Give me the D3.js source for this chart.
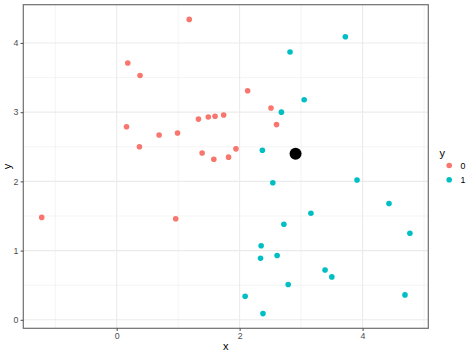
<!DOCTYPE html>
<html><head><meta charset="utf-8">
<script src="https://cdn.jsdelivr.net/npm/d3@7"></script>
<style>body{margin:0;background:#fff}svg{display:block;font-family:"Liberation Sans",Arial,sans-serif}</style>
</head><body><svg id="c" width="474" height="355"></svg>
<script>
const xs0 = [1.18,0.18,0.38,0.16,0.37,0.69,0.99,1.33,1.49,1.60,1.74,1.39,1.58,1.82,1.94,2.13,2.51,2.60,-1.22,0.96];
const ys0 = [4.34,3.71,3.53,2.79,2.50,2.67,2.70,2.90,2.93,2.94,2.96,2.41,2.32,2.35,2.47,3.31,3.06,2.82,1.48,1.46];
const xs1 = [3.72,2.82,3.05,2.68,2.37,2.54,3.91,4.43,3.16,2.72,4.77,2.35,2.34,2.61,3.39,3.50,2.79,2.09,4.69,2.38];
const ys1 = [4.09,3.87,3.18,3.00,2.45,1.98,2.02,1.68,1.54,1.38,1.25,1.07,0.89,0.93,0.72,0.62,0.51,0.34,0.36,0.09];
const highlight = [[2.91, 2.40]];
const classes = ["0","1"];
const colors = ["#F8766D","#00BFC4"];
const xTicks = [0,2,4], yTicks = [0,1,2,3,4];
const xMinor = [-1,1,3,5], yMinor = [0.5,1.5,2.5,3.5];

const svg = d3.select("#c");
const L=23.3,R=428.3,T=4.7,B=328.3;
const allX = xs0.concat(xs1), allY = ys0.concat(ys1);
const xr = d3.extent(allX), yr = d3.extent(allY);
const xp = (xr[1]-xr[0])*0.05, yp=(yr[1]-yr[0])*0.05;
const x = d3.scaleLinear().domain([xr[0]-xp, xr[1]+xp]).range([L,R]);
const y = d3.scaleLinear().domain([yr[0]-yp, yr[1]+yp]).range([B,T]);

const g = svg.append("g");
g.append("rect").attr("x",L).attr("y",T).attr("width",R-L).attr("height",B-T).attr("fill","#fff");
g.selectAll(".mx").data(xMinor.filter(v=>x(v)>L&&x(v)<R)).join("line").attr("x1",d=>x(d)).attr("x2",d=>x(d)).attr("y1",T).attr("y2",B).attr("stroke","#EBEBEB").attr("stroke-width",0.55);
g.selectAll(".my").data(yMinor).join("line").attr("y1",d=>y(d)).attr("y2",d=>y(d)).attr("x1",L).attr("x2",R).attr("stroke","#EBEBEB").attr("stroke-width",0.55);
g.selectAll(".Mx").data(xTicks).join("line").attr("x1",d=>x(d)).attr("x2",d=>x(d)).attr("y1",T).attr("y2",B).attr("stroke","#EBEBEB").attr("stroke-width",1.1);
g.selectAll(".My").data(yTicks).join("line").attr("y1",d=>y(d)).attr("y2",d=>y(d)).attr("x1",L).attr("x2",R).attr("stroke","#EBEBEB").attr("stroke-width",1.1);

const pts = [];
xs0.forEach((v,i)=>pts.push({x:v,y:ys0[i],c:0}));
xs1.forEach((v,i)=>pts.push({x:v,y:ys1[i],c:1}));
g.selectAll(".p").data(pts).join("circle").attr("cx",d=>x(d.x)).attr("cy",d=>y(d.y)).attr("r",2.8).attr("fill",d=>colors[d.c]);
g.selectAll(".h").data(highlight).join("circle").attr("cx",d=>x(d[0])).attr("cy",d=>y(d[1])).attr("r",6).attr("fill","#000");

g.append("rect").attr("x",L).attr("y",T).attr("width",R-L).attr("height",B-T).attr("fill","none").attr("stroke","#6e6e6e").attr("stroke-width",1.2);

const xa = svg.append("g").attr("transform",`translate(0,${B})`).call(d3.axisBottom(x).tickValues(xTicks).tickSize(2.7).tickPadding(2.2).tickFormat(d3.format("d")));
const ya = svg.append("g").attr("transform",`translate(${L},0)`).call(d3.axisLeft(y).tickValues(yTicks).tickSize(2.7).tickPadding(2.2).tickFormat(d3.format("d")));
[xa,ya].forEach(a=>{a.select(".domain").remove();a.selectAll("line").attr("stroke","#555").attr("stroke-width",1.07);a.selectAll("text").attr("fill","#4D4D4D").style("font-size","8.8px").style("font-family","Liberation Sans, Arial, sans-serif");});

svg.append("text").attr("x",(L+R)/2).attr("y",350).attr("text-anchor","middle").style("font-size","11px").text("x");
svg.append("text").attr("transform",`translate(10.5,${(T+B)/2}) rotate(-90)`).attr("text-anchor","middle").style("font-size","11px").text("y");

const lg = svg.append("g");
lg.append("text").attr("x",439.5).attr("y",157).style("font-size","11px").text("y");
classes.forEach((c,i)=>{
  const cy = 165.5 + i*14.2;
  lg.append("circle").attr("cx",449.2).attr("cy",cy).attr("r",2.8).attr("fill",colors[i]);
  lg.append("text").attr("x",460.5).attr("y",cy+3.2).style("font-size","8.8px").attr("fill","#000").text(c);
});
</script></body></html>
